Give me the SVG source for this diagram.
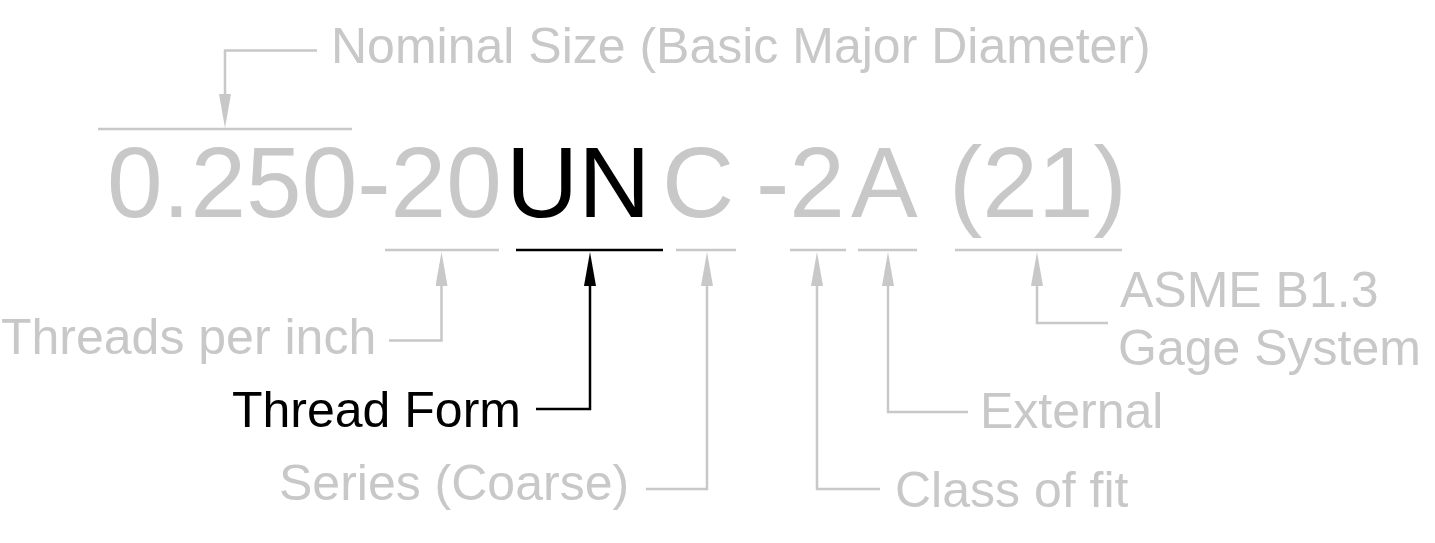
<svg xmlns="http://www.w3.org/2000/svg" width="1435" height="543" viewBox="0 0 1435 543">
<style>
.g{fill:#c8c8c8}
.k{fill:#000}
.big{font-family:"Liberation Sans",Arial,sans-serif;font-size:100px}
.lbl{font-family:"Liberation Sans",Arial,sans-serif;font-size:50px}
.ln{fill:none;stroke-width:2.5}
.lg{stroke:#c8c8c8}
.lk{stroke:#000}
</style>
<defs>
<marker id="ag" viewBox="0 0 34 12" markerWidth="34" markerHeight="12" refX="24" refY="6" orient="auto" markerUnits="userSpaceOnUse">
<path d="M0,0 L34,6 L0,12 z" fill="#c8c8c8"/>
</marker>
<marker id="ak" viewBox="0 0 34 12" markerWidth="34" markerHeight="12" refX="24" refY="6" orient="auto" markerUnits="userSpaceOnUse">
<path d="M0,0 L34,6 L0,12 z" fill="#000"/>
</marker>
</defs>
<rect width="1435" height="543" fill="#fff"/>
<g id="designation">
<text class="big g" x="107" y="217">0.250-20</text>
<text class="big k" x="506" y="217">UN</text>
<text class="big g" x="662" y="217">C</text>
<text class="big g" x="756" y="217">-2</text>
<text class="big g" x="851" y="217">A</text>
<text class="big g" x="949" y="217">(21)</text>
</g>
<g id="underlines">
<line class="ln lg" x1="98" y1="129" x2="352" y2="129"/>
<line class="ln lg" x1="385" y1="250" x2="499" y2="250"/>
<line class="ln lk" x1="516" y1="250" x2="663" y2="250"/>
<line class="ln lg" x1="676" y1="250" x2="736" y2="250"/>
<line class="ln lg" x1="790" y1="250" x2="846" y2="250"/>
<line class="ln lg" x1="858" y1="250" x2="917" y2="250"/>
<line class="ln lg" x1="955" y1="250" x2="1122" y2="250"/>
</g>
<g id="nominal"><text class="lbl g" x="331" y="63">Nominal Size (Basic Major Diameter)</text></g>
<g id="tpi"><text class="lbl g" x="1" y="354">Threads per inch</text></g>
<g id="form"><text class="lbl k" x="232" y="427">Thread Form</text></g>
<g id="series"><text class="lbl g" x="279" y="500">Series (Coarse)</text></g>
<g id="class"><text class="lbl g" x="895" y="507">Class of fit</text></g>
<g id="external"><text class="lbl g" x="980" y="428">External</text></g>
<g id="gage"><text class="lbl g" x="1120" y="307">ASME B1.3</text><text class="lbl g" x="1118" y="365">Gage System</text></g>
<g id="connectors">
<path class="ln lg" d="M317,50.5 H225 V118" marker-end="url(#ag)"/>
<path class="ln lg" d="M389,340.5 H441.5 V262" marker-end="url(#ag)"/>
<path class="ln lk" d="M536,409 H590 V262" marker-end="url(#ak)"/>
<path class="ln lg" d="M646,489 H707 V262" marker-end="url(#ag)"/>
<path class="ln lg" d="M880,489 H817 V262" marker-end="url(#ag)"/>
<path class="ln lg" d="M968,412 H888 V262" marker-end="url(#ag)"/>
<path class="ln lg" d="M1108,323 H1037 V262" marker-end="url(#ag)"/>
</g>
</svg>
